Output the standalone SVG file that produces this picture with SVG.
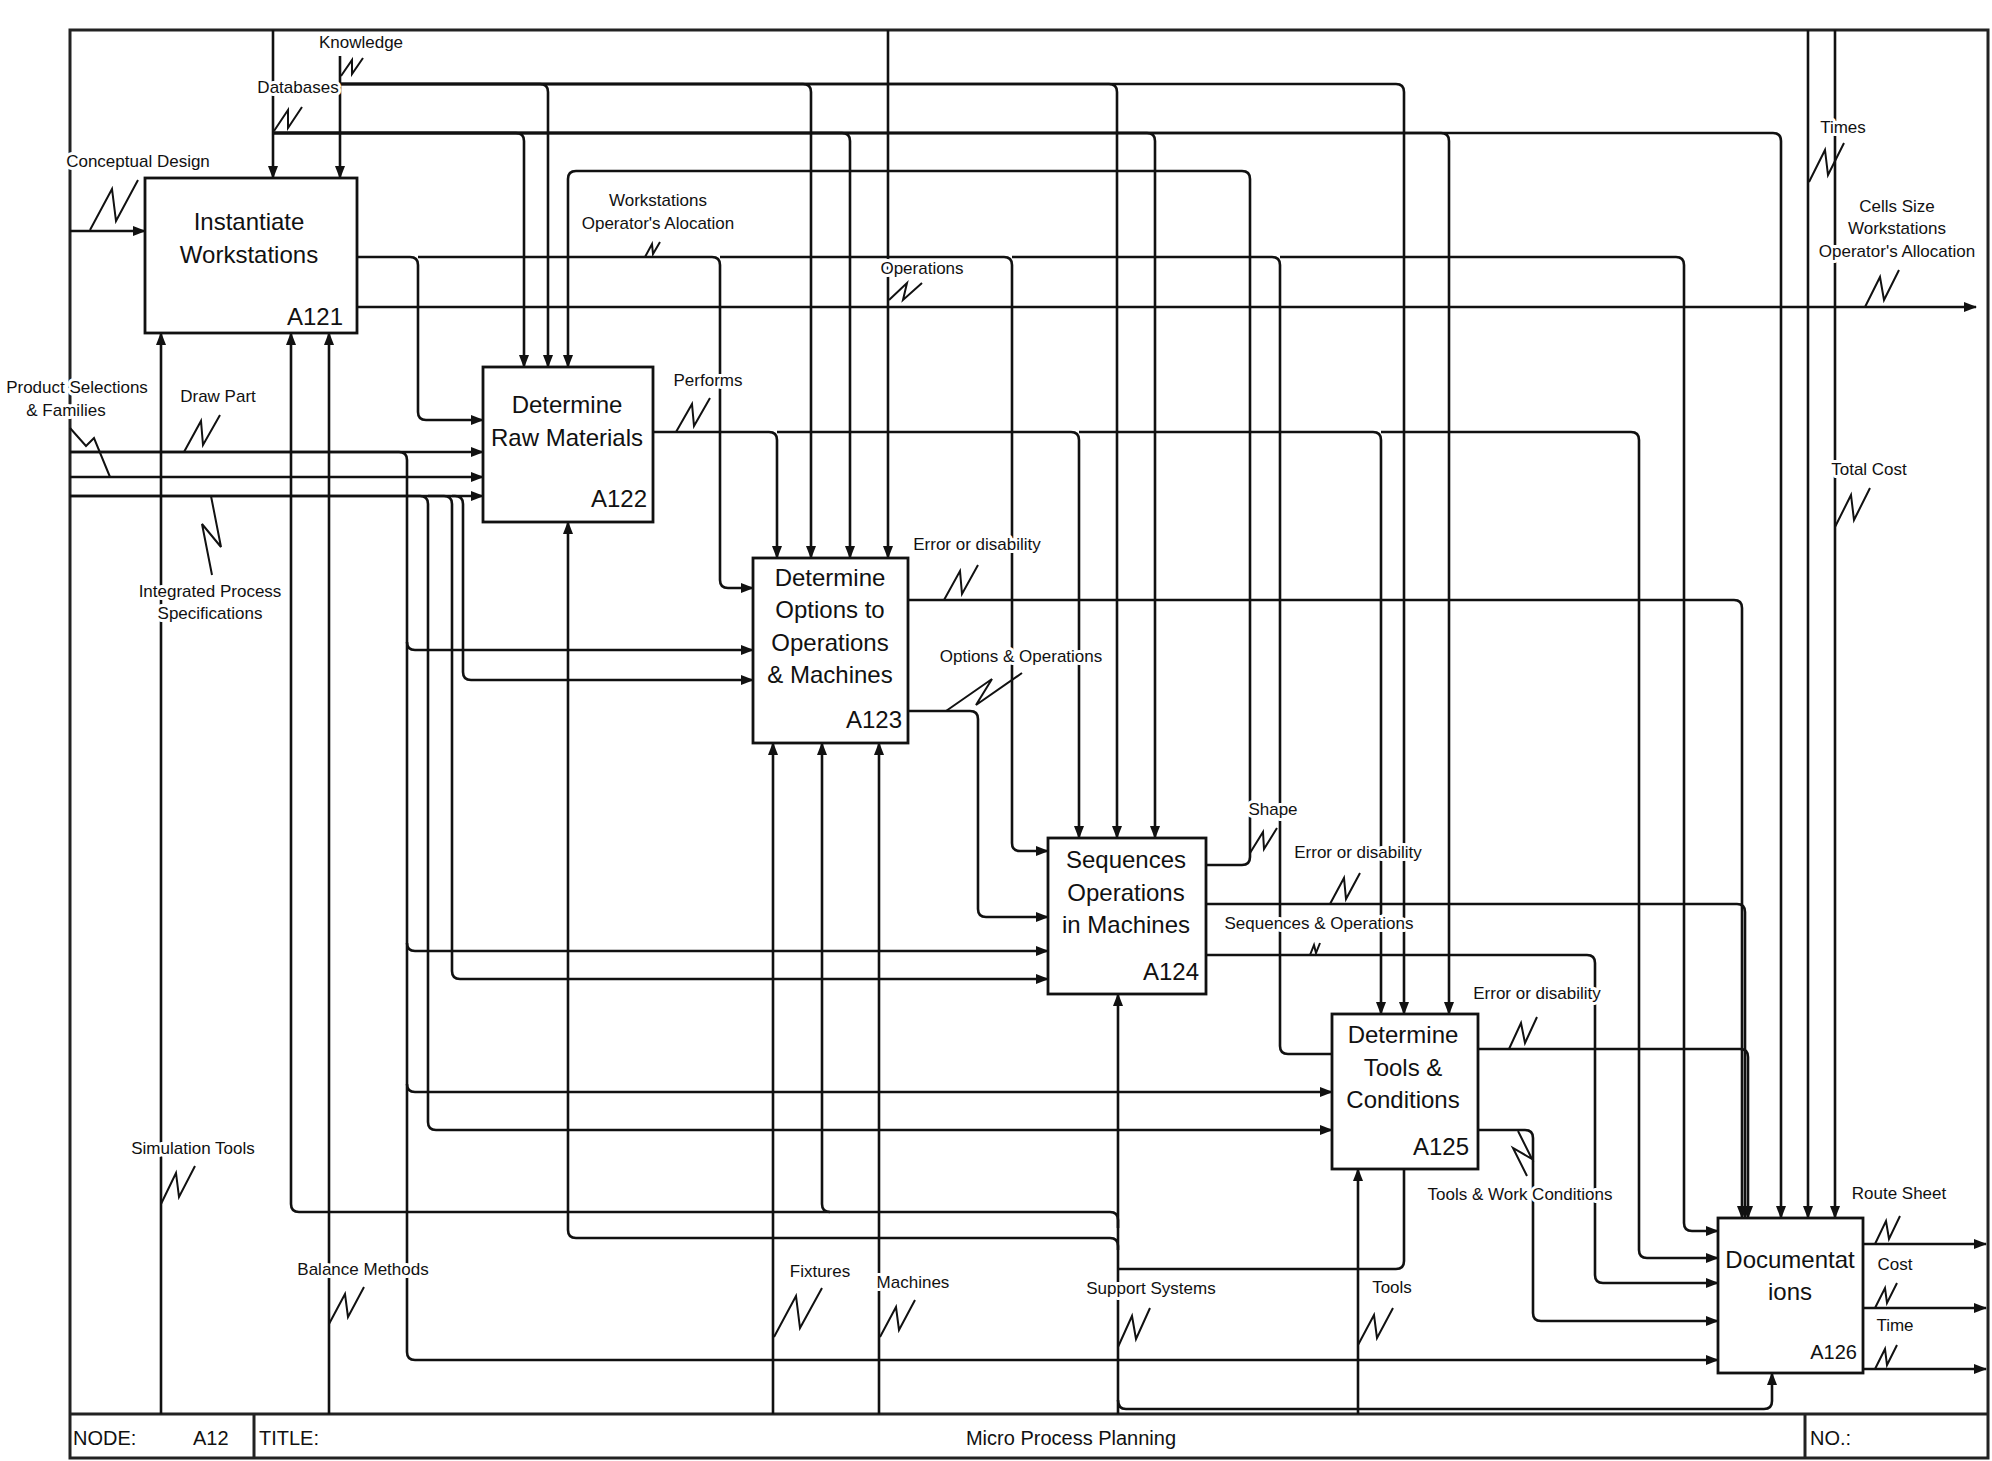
<svg xmlns="http://www.w3.org/2000/svg" width="1992" height="1461" viewBox="0 0 1992 1461">
<defs>
<marker id="ah" markerUnits="userSpaceOnUse" markerWidth="13" markerHeight="10" refX="12" refY="5" orient="auto">
<path d="M0,0 L13,5 L0,10 z" fill="#111"/>
</marker>
<style>
.frame{fill:none;stroke:#222;stroke-width:3}
.c{fill:none;stroke:#111;stroke-width:2.6}
.a{marker-end:url(#ah)}
.box{fill:#fff;stroke:#111;stroke-width:2.8}
.bt{font-family:"Liberation Sans",Arial,sans-serif;font-size:24px;fill:#111;text-anchor:middle}
.bn{font-family:"Liberation Sans",Arial,sans-serif;font-size:24px;fill:#111;text-anchor:end}
.lbl{font-family:"Liberation Sans",Arial,sans-serif;font-size:17px;fill:#111;text-anchor:middle;stroke:#fff;stroke-width:6;paint-order:stroke;stroke-linejoin:round}
.sq{fill:none;stroke:#111;stroke-width:2}
.tt{font-family:"Liberation Sans",Arial,sans-serif;font-size:20px;fill:#111}
</style>
</defs>
<rect width="1992" height="1461" fill="#fff"/>
<g id="frame">
<rect class="frame" x="70" y="30" width="1918" height="1428"/>
<line class="frame" x1="70" y1="1414" x2="1988" y2="1414"/>
<line class="frame" x1="254" y1="1414" x2="254" y2="1458"/>
<line class="frame" x1="1805" y1="1414" x2="1805" y2="1458"/>
<text class="tt" x="73" y="1445">NODE:</text>
<text class="tt" x="193" y="1445">A12</text>
<text class="tt" x="259" y="1445">TITLE:</text>
<text class="tt" x="1071" y="1445" text-anchor="middle">Micro Process Planning</text>
<text class="tt" x="1810" y="1445">NO.:</text>
</g>
<g id="connectors">
<path class="c a" d="M273,30 V178"/>
<path class="c a" d="M273,133 H516 Q524,133 524,141 V367"/>
<path class="c a" d="M273,133 H842 Q850,133 850,141 V558"/>
<path class="c a" d="M273,133 H1147 Q1155,133 1155,141 V838"/>
<path class="c a" d="M273,133 H1441 Q1449,133 1449,141 V1014"/>
<path class="c a" d="M273,133 H1773 Q1781,133 1781,141 V1218"/>
<path class="c a" d="M340,56 V178"/>
<path class="c a" d="M340,84 H540 Q548,84 548,92 V367"/>
<path class="c a" d="M340,84 H803 Q811,84 811,92 V558"/>
<path class="c a" d="M340,84 H1109 Q1117,84 1117,92 V838"/>
<path class="c a" d="M340,84 H1396 Q1404,84 1404,92 V1014"/>
<path class="c a" d="M888,30 V558"/>
<path class="c a" d="M1808,30 V1218"/>
<path class="c a" d="M1835,30 V1218"/>
<path class="c a" d="M70,231 H145"/>
<path class="c a" d="M70,452 H483"/>
<path class="c a" d="M70,452 H399 Q407,452 407,460 V642 Q407,650 415,650 H753"/>
<path class="c a" d="M407,642 V943 Q407,951 415,951 H1048"/>
<path class="c a" d="M407,943 V1084 Q407,1092 415,1092 H1332"/>
<path class="c a" d="M407,1084 V1352 Q407,1360 415,1360 H1718"/>
<path class="c a" d="M70,477 H483"/>
<path class="c a" d="M70,496 H483"/>
<path class="c a" d="M70,496 H420 Q428,496 428,504 V1122 Q428,1130 436,1130 H1332"/>
<path class="c a" d="M428,496 H444 Q452,496 452,504 V971 Q452,979 460,979 H1048"/>
<path class="c a" d="M452,496 H455 Q463,496 463,504 V672 Q463,680 471,680 H753"/>
<path class="c a" d="M357,257 H410 Q418,257 418,265 V412 Q418,420 426,420 H483"/>
<path class="c a" d="M418,257 H712 Q720,257 720,265 V580 Q720,588 728,588 H753"/>
<path class="c a" d="M720,257 H1004 Q1012,257 1012,265 V843 Q1012,851 1020,851 H1048"/>
<path class="c" d="M1012,257 H1272 Q1280,257 1280,265 V1046 Q1280,1054 1288,1054 H1332"/>
<path class="c a" d="M1280,257 H1676 Q1684,257 1684,265 V1223 Q1684,1231 1692,1231 H1718"/>
<path class="c a" d="M357,307 H1976"/>
<path class="c a" d="M653,432 H769 Q777,432 777,440 V558"/>
<path class="c a" d="M777,432 H1071 Q1079,432 1079,440 V838"/>
<path class="c a" d="M1079,432 H1373 Q1381,432 1381,440 V1014"/>
<path class="c a" d="M1381,432 H1631 Q1639,432 1639,440 V1250 Q1639,1258 1647,1258 H1718"/>
<path class="c a" d="M1206,865 H1242 Q1250,865 1250,857 V179 Q1250,171 1242,171 H576 Q568,171 568,179 V367"/>
<path class="c a" d="M908,600 H1734 Q1742,600 1742,608 V1218"/>
<path class="c a" d="M1206,904 H1737 Q1745,904 1745,912 V1218"/>
<path class="c a" d="M1478,1049 H1740 Q1748,1049 1748,1057 V1218"/>
<path class="c a" d="M908,711 H970 Q978,711 978,719 V909 Q978,917 986,917 H1048"/>
<path class="c a" d="M1206,955 H1587 Q1595,955 1595,963 V1275 Q1595,1283 1603,1283 H1718"/>
<path class="c a" d="M1478,1130 H1525 Q1533,1130 1533,1138 V1313 Q1533,1321 1541,1321 H1718"/>
<path class="c a" d="M161,1414 V333"/>
<path class="c a" d="M329,1414 V333"/>
<path class="c a" d="M773,1414 V743"/>
<path class="c a" d="M879,1414 V743"/>
<path class="c a" d="M1118,1414 V994"/>
<path class="c a" d="M1358,1414 V1169"/>
<path class="c a" d="M1118,1228 V1220 Q1118,1212 1110,1212 H299 Q291,1212 291,1204 V333"/>
<path class="c a" d="M830,1212 Q822,1212 822,1204 V743"/>
<path class="c a" d="M1118,1250 V1246 Q1118,1238 1110,1238 H576 Q568,1238 568,1230 V522"/>
<path class="c" d="M1118,1269 H1396 Q1404,1269 1404,1261 V1169"/>
<path class="c a" d="M1118,1400 Q1118,1409 1126,1409 H1764 Q1772,1409 1772,1401 V1373"/>
<path class="c a" d="M1863,1244 H1986"/>
<path class="c a" d="M1863,1308 H1986"/>
<path class="c a" d="M1863,1369 H1986"/>
</g>
<g id="A121">
<rect class="box" x="145" y="178" width="212" height="155"/>
<text class="bt" x="249" y="230">Instantiate</text>
<text class="bt" x="249" y="263">Workstations</text>
<text class="bn" x="343" y="325">A121</text>
</g>
<g id="A122">
<rect class="box" x="483" y="367" width="170" height="155"/>
<text class="bt" x="567" y="413">Determine</text>
<text class="bt" x="567" y="446">Raw Materials</text>
<text class="bn" x="647" y="507">A122</text>
</g>
<g id="A123">
<rect class="box" x="753" y="558" width="155" height="185"/>
<text class="bt" x="830" y="586">Determine</text>
<text class="bt" x="830" y="618">Options to</text>
<text class="bt" x="830" y="651">Operations</text>
<text class="bt" x="830" y="683">&amp; Machines</text>
<text class="bn" x="902" y="728">A123</text>
</g>
<g id="A124">
<rect class="box" x="1048" y="838" width="158" height="156"/>
<text class="bt" x="1126" y="868">Sequences</text>
<text class="bt" x="1126" y="901">Operations</text>
<text class="bt" x="1126" y="933">in Machines</text>
<text class="bn" x="1199" y="980">A124</text>
</g>
<g id="A125">
<rect class="box" x="1332" y="1014" width="146" height="155"/>
<text class="bt" x="1403" y="1043">Determine</text>
<text class="bt" x="1403" y="1076">Tools &amp;</text>
<text class="bt" x="1403" y="1108">Conditions</text>
<text class="bn" x="1469" y="1155">A125</text>
</g>
<g id="A126">
<rect class="box" x="1718" y="1218" width="145" height="155"/>
<text class="bt" x="1790" y="1268">Documentat</text>
<text class="bt" x="1790" y="1300">ions</text>
<text class="bn" x="1857" y="1359" style="font-size:20px">A126</text>
</g>
<g id="labels">
<text class="lbl" x="361" y="48">Knowledge</text>
<text class="lbl" x="298" y="93">Databases</text>
<text class="lbl" x="138" y="167">Conceptual Design</text>
<text class="lbl" x="77" y="393">Product Selections</text>
<text class="lbl" x="66" y="416">&amp; Families</text>
<text class="lbl" x="218" y="402">Draw Part</text>
<text class="lbl" x="210" y="597">Integrated Process</text>
<text class="lbl" x="210" y="619">Specifications</text>
<text class="lbl" x="658" y="206">Workstations</text>
<text class="lbl" x="658" y="229">Operator's Alocation</text>
<text class="lbl" x="922" y="274">Operations</text>
<text class="lbl" x="708" y="386">Performs</text>
<text class="lbl" x="977" y="550">Error or disability</text>
<text class="lbl" x="1021" y="662">Options &amp; Operations</text>
<text class="lbl" x="1273" y="815">Shape</text>
<text class="lbl" x="1358" y="858">Error or disability</text>
<text class="lbl" x="1319" y="929">Sequences &amp; Operations</text>
<text class="lbl" x="1537" y="999">Error or disability</text>
<text class="lbl" x="1520" y="1200">Tools &amp; Work Conditions</text>
<text class="lbl" x="1843" y="133">Times</text>
<text class="lbl" x="1897" y="212">Cells Size</text>
<text class="lbl" x="1897" y="234">Workstations</text>
<text class="lbl" x="1897" y="257">Operator's Allocation</text>
<text class="lbl" x="1869" y="475">Total Cost</text>
<text class="lbl" x="193" y="1154">Simulation Tools</text>
<text class="lbl" x="363" y="1275">Balance Methods</text>
<text class="lbl" x="820" y="1277">Fixtures</text>
<text class="lbl" x="913" y="1288">Machines</text>
<text class="lbl" x="1151" y="1294">Support Systems</text>
<text class="lbl" x="1392" y="1293">Tools</text>
<text class="lbl" x="1899" y="1199">Route Sheet</text>
<text class="lbl" x="1895" y="1270">Cost</text>
<text class="lbl" x="1895" y="1331">Time</text>
</g>
<g id="squiggles">
<path class="sq" d="M341,76 L352,60 L352,74 L363,58"/>
<path class="sq" d="M274,131 L288,110 L288,128 L302,107"/>
<path class="sq" d="M90,230 L112,189 L116,221 L138,180"/>
<path class="sq" d="M70,428 L86,446 L94,438 L110,477"/>
<path class="sq" d="M184,452 L201,421 L203,445 L220,415"/>
<path class="sq" d="M211,496 L221,547 L202,524 L212,575"/>
<path class="sq" d="M645,257 L652,244 L653,254 L660,242"/>
<path class="sq" d="M889,300 L907,283 L903,300 L922,283"/>
<path class="sq" d="M676,432 L692,404 L694,426 L710,398"/>
<path class="sq" d="M944,600 L960,571 L962,594 L978,565"/>
<path class="sq" d="M946,711 L992,679 L976,705 L1022,673"/>
<path class="sq" d="M1250,853 L1263,832 L1264,849 L1277,828"/>
<path class="sq" d="M1330,904 L1344,878 L1346,899 L1360,873"/>
<path class="sq" d="M1310,955 L1314,945 L1316,953 L1320,943"/>
<path class="sq" d="M1509,1049 L1521,1023 L1525,1043 L1537,1017"/>
<path class="sq" d="M1518,1131 L1532,1159 L1513,1148 L1527,1176"/>
<path class="sq" d="M1809,182 L1825,150 L1828,175 L1844,143"/>
<path class="sq" d="M1865,307 L1880,277 L1884,300 L1899,270"/>
<path class="sq" d="M1835,527 L1851,495 L1854,520 L1870,488"/>
<path class="sq" d="M161,1204 L176,1173 L179,1197 L195,1166"/>
<path class="sq" d="M329,1324 L345,1294 L348,1317 L364,1287"/>
<path class="sq" d="M774,1337 L796,1296 L800,1328 L822,1288"/>
<path class="sq" d="M880,1337 L896,1307 L899,1330 L915,1300"/>
<path class="sq" d="M1118,1347 L1132,1316 L1136,1339 L1150,1308"/>
<path class="sq" d="M1358,1345 L1374,1315 L1377,1338 L1393,1308"/>
<path class="sq" d="M1875,1244 L1886,1221 L1889,1239 L1900,1216"/>
<path class="sq" d="M1875,1308 L1885,1288 L1887,1303 L1897,1283"/>
<path class="sq" d="M1875,1369 L1885,1349 L1887,1365 L1897,1345"/>
</g>
</svg>
